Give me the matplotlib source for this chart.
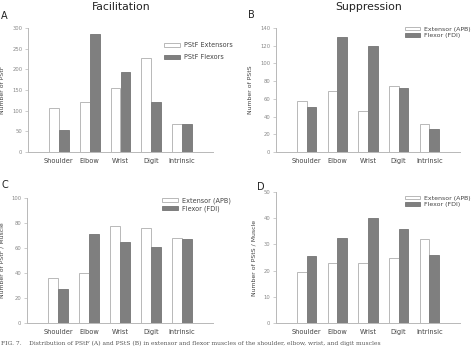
import matplotlib
matplotlib.use("Agg")
import matplotlib.pyplot as plt
import numpy as np

W, H = 474, 347

categories = ["Shoulder", "Elbow", "Wrist", "Digit", "Intrinsic"]

# A: facilitation counts
fac_ext = [107, 120, 155, 228, 68]
fac_flex = [53, 285, 194, 122, 67]
# B: suppression counts
sup_ext = [58, 69, 46, 75, 32]
sup_flex = [51, 130, 120, 72, 26]
# C: facilitation per muscle
fac_ext_m = [36, 40, 78, 76, 68]
fac_flex_m = [27, 71, 65, 61, 67]
# D: suppression per muscle
sup_ext_m = [19.5, 23, 23, 25, 32]
sup_flex_m = [25.5, 32.5, 40, 36, 26]

fig = plt.figure(figsize=(W / 100, H / 100), dpi=100)
fig.patch.set_facecolor("white")

edge = "#b8b8b8"
flex_col = "#7f7f7f"
txt = "#444444"


def px_axes(left, top, right, bottom):
    return fig.add_axes([left / W, 1 - bottom / H, (right - left) / W, (bottom - top) / H])


def panel(ax, ext, flex, ymax, step, ylabel, labels, leg_xy, spacing=0.25, legsize=4.7):
    x = np.arange(1, len(categories) + 1)
    w = 0.32
    ax.bar(x - w / 2, ext, w, color="white", edgecolor=edge, linewidth=0.7, label=labels[0])
    ax.bar(x + w / 2, flex, w, color=flex_col, edgecolor=flex_col, linewidth=0.7, label=labels[1])
    ax.set_xlim(0, 6)
    ax.set_ylim(0, ymax)
    ax.set_yticks(np.arange(0, ymax + 1, step))
    ax.set_xticks(x)
    ax.set_xticklabels(categories, fontsize=4.8, color=txt)
    ax.tick_params(axis="x", length=0, pad=4)
    ax.tick_params(axis="y", length=2, width=0.5, color=edge, labelsize=3.8, labelcolor="#888888", pad=2)
    for s in ["top", "right"]:
        ax.spines[s].set_visible(False)
    for s in ["left", "bottom"]:
        ax.spines[s].set_color(edge)
        ax.spines[s].set_linewidth(0.7)
    ax.set_ylabel(ylabel, fontsize=4.4, color=txt, labelpad=5)
    ax.legend(loc="upper left", bbox_to_anchor=leg_xy, frameon=False, fontsize=legsize,
              handlelength=2.4, handleheight=0.5, labelspacing=spacing, borderpad=0,
              handletextpad=0.6, labelcolor=txt)


axA = px_axes(28, 28, 213, 152)
panel(axA, fac_ext, fac_flex, 300, 50, "Number of PStF",
      ["PStF Extensors", "PStF Flexors"], (0.72, 0.91), spacing=0.85)
axB = px_axes(276, 28, 460, 152)
panel(axB, sup_ext, sup_flex, 140, 20, "Number of PStS",
      ["Extensor (APB)", "Flexor (FDI)"], (0.685, 1.035), legsize=4.5)
axC = px_axes(27, 198, 213, 323)
panel(axC, fac_ext_m, fac_flex_m, 100, 20, "Number of PStF / Muscle",
      ["Extensor (APB)", "Flexor (FDI)"], (0.71, 1.03))
axD = px_axes(276, 192, 460, 323)
panel(axD, sup_ext_m, sup_flex_m, 50, 10, "Number of PStS / Muscle",
      ["Extensor (APB)", "Flexor (FDI)"], (0.685, 0.995), legsize=4.5)

fig.text(121 / W, 1 - 7 / H, "Facilitation", ha="center", va="center", fontsize=7.8, color="#222222")
fig.text(369 / W, 1 - 7 / H, "Suppression", ha="center", va="center", fontsize=7.8, color="#222222")
for lab, (px, py) in zip("ABCD", [(1, 16), (248, 15), (1, 185), (257, 187)]):
    fig.text(px / W, 1 - py / H, lab, ha="left", va="center", fontsize=7, color="#222222")

fig.text(1 / W, 1 - 343 / H,
         "FIG. 7.    Distribution of PStF (A) and PStS (B) in extensor and flexor muscles of the shoulder, elbow, wrist, and digit muscles",
         ha="left", va="center", fontsize=4.3, family="DejaVu Serif", color="#555555")

fig.savefig("out.png", dpi=100, facecolor="white")
